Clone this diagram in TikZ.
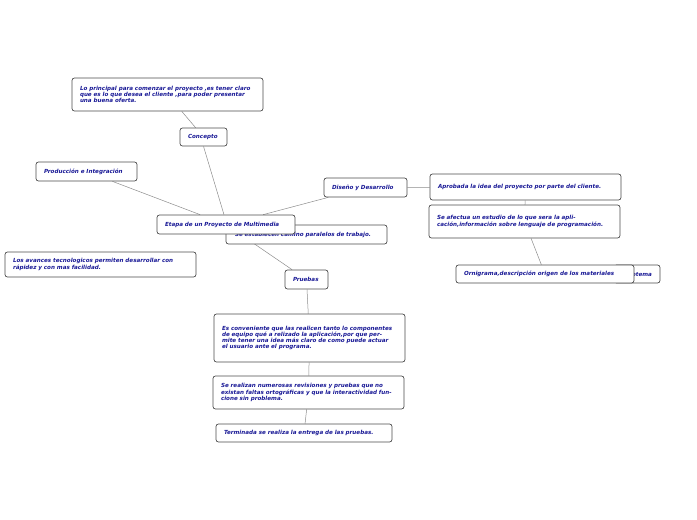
\documentclass[tikz,border=0pt]{standalone}
\usepackage{fontspec}
\setmainfont{DejaVu Sans}
\usetikzlibrary{backgrounds}
\definecolor{tblue}{RGB}{25,25,150}
\tikzset{
 box/.style={draw=black!70,line width=0.7pt,rounded corners=2.5pt,fill=white,inner sep=0pt,
   font=\bfseries\itshape\fontsize{5.6}{6.2}\selectfont,text=tblue,align=left},
 link/.style={draw=black!45,line width=0.5pt}
}
\newcommand{\bx}[6]{% name, x1,y1,x2,y2, text
 \node[box,minimum width={#4-#2},minimum height={#5-#3},text width={#4-#2-16},anchor=center] (#1) at ({(#2+#4)/2},{(#3+#5)/2}) {#6};}
\begin{document}
\begin{tikzpicture}[x=1pt,y=-1pt]
\useasboundingbox (0,0) rectangle (697,520);
\bx{lo}{72}{78}{263}{111}{Lo principal para comenzar el proyecto ,es tener claro que es lo que desea el cliente ,para poder presentar una buena oferta.}
\bx{con}{180}{128}{227}{146}{Concepto}
\bx{prod}{36}{162}{137}{181}{Producción e Integración}
\bx{est}{226}{225}{387}{244}{\hspace*{1pt}Se establecen camino paralelos de trabajo.}
\bx{etapa}{157}{215}{295}{234}{Etapa de un Proyecto de Multimedia}
\bx{av}{5}{252}{196}{277}{Los avances tecnologicos permiten desarrollar con rápidez y con mas facilidad.}
\bx{dis}{324}{178}{407}{197}{Diseño y Desarrollo}
\bx{apr}{430}{174}{621}{200}{Aprobada la idea del proyecto por parte del cliente.}
\bx{afe}{429}{205}{620}{238}{Se afectua un estudio de lo que sera la aplicación,información sobre lenguaje de programación.}
\bx{sub}{614}{265}{660}{283}{\hfill Subtema}
\bx{orn}{456}{265}{634}{283}{Ornigrama,descripción origen de los materiales}
\bx{pru}{285}{270}{328}{289}{Pruebas}
\bx{es}{214}{314}{405}{362}{Es conveniente que las realicen tanto lo componentes de equipo qué a relizado la aplicación,por que permite tener una idea más claro de como puede actuar el usuario ante el programa.}
\bx{rea}{213}{376}{404}{409}{Se realizan numerosas revisiones y pruebas que no existan faltas ortográficas y que la interactividad funcione sin problema.}
\bx{ter}{216}{424}{392}{442}{Terminada se realiza la entrega de las pruebas.}
\begin{scope}[on background layer]
\draw[link] (etapa.north) ++(-2,0) -- (con.south);
\draw[link] (con) -- (lo);
\draw[link] (etapa) -- (prod);
\draw[link] (etapa) -- (dis);
\draw[link] (etapa) -- (pru);
\draw[link] (dis) -- (apr);
\draw[link] (apr) -- (afe);
\draw[link] (afe) -- (orn);
\draw[link] (pru) -- (es);
\draw[link] (es) -- (rea);
\draw[link] (rea) -- (ter);
\end{scope}
\end{tikzpicture}
\end{document}
